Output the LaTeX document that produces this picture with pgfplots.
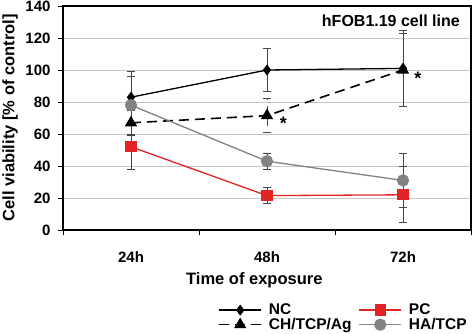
\documentclass[border=0pt]{standalone}
\usepackage{pgfplots}
\pgfplotsset{compat=1.18}
\usepackage{fontspec}
\setmainfont{Liberation Sans}
\definecolor{pcred}{RGB}{225,35,35}
\definecolor{hagray}{RGB}{128,130,133}
\definecolor{errgray}{RGB}{70,70,70}
\begin{document}
\begin{tikzpicture}
\begin{axis}[
  scale only axis,
  width=408pt, height=224pt,
  xmin=0.5, xmax=3.5, ymin=0, ymax=140,
  xtick={1,2,3}, xticklabels={24h,48h,72h},
  major x tick style={draw=none},
  minor xtick={0.5,1.5,2.5,3.5},
  minor tick length=5pt,
  minor x tick style={black, line width=0.8pt},
  ytick={0,20,...,140},
  ytick style={black, line width=0.8pt},
  tick align=outside,
  major tick length=5pt,
  xtick pos=bottom, ytick pos=left,
  ymajorgrids,
  grid style={draw=black!22, line width=0.8pt},
  axis line style={black, line width=1.2pt},
  tick label style={font=\fontsize{15}{17}\selectfont\bfseries},
  /pgf/number format/assume math mode=true,
  xticklabel style={yshift=-13.5pt},
  yticklabel style={xshift=-4pt},
  xlabel={Time of exposure},
  ylabel={Cell viability [\% of control]},
  label style={font=\fontsize{16.5}{18}\selectfont\bfseries},
  xlabel style={at={([yshift=-50pt]axis description cs:0.469,0)}, anchor=center},
  ylabel style={at={([xshift=-53pt]axis description cs:0,0.5)}, anchor=center},
  legend columns=2,
  legend style={at={(0.373,-0.316)}, anchor=north west, draw=none, fill=none,
    font=\fontsize{15.5}{17}\selectfont\bfseries, row sep=0pt,
    nodes={inner ysep=1pt},
    /tikz/every odd column/.append style={column sep=5pt},
    /tikz/every even column/.append style={column sep=5pt}},
  legend cell align=left,
  legend image code/.code={\draw[mark repeat=2,mark phase=2,#1] plot coordinates {(0pt,0pt) (21pt,0pt) (42pt,0pt)};},
  error bars/y dir=both, error bars/y explicit,
  error bars/error bar style={errgray, line width=0.8pt},
  error bars/error mark options={rotate=90, mark size=4pt, errgray, line width=0.8pt},
]
\coordinate (SW) at (rel axis cs:0,0);
\addplot[black, line width=1.3pt, mark=diamond*, mark size=4.5pt, mark options={solid, fill=black}]
  table[x=x, y=y, y error=e] {
x y e
1 83 16
2 100 13.5
3 101 23.5
};
\addlegendentry{NC}
\addplot[pcred, line width=1.3pt, mark=square*, mark size=5pt, mark options={solid, fill=pcred}]
  table[x=x, y=y, y error=e] {
x y e
1 52 14
2 21.5 5
3 22 17.5
};
\addlegendentry{PC}
\addplot[black, line width=1.6pt, dash pattern=on 10pt off 6pt, mark=triangle*, mark size=5.5pt, mark options={solid, fill=black}]
  table[x=x, y=y, y error=e] {
x y e
1 67 8
2 71.5 10.5
3 100 23
};
\addlegendentry{CH/TCP/Ag}
\addplot[hagray, line width=1.3pt, mark=*, mark size=5.5pt, mark options={solid, fill=hagray}]
  table[x=x, y=y, y error=e] {
x y e
1 78 18
2 43 5
3 31 17
};
\addlegendentry{HA/TCP}
\node[font=\fontsize{18}{18}\selectfont\bfseries] at (axis cs:2.12,66.5) {*};
\node[font=\fontsize{18}{18}\selectfont\bfseries] at (axis cs:3.11,95) {*};
\node[anchor=north east, inner sep=0pt, font=\fontsize{16}{18}\selectfont\bfseries] at (rel axis cs:0.973,0.962) {hFOB1.19 cell line};
\draw[black, line width=2.5pt] (rel axis cs:1,0) -- (rel axis cs:1,1);
\end{axis}
\pgfresetboundingbox
\path (SW) ++(-63pt,-104pt) rectangle ++(474pt,334pt);
\end{tikzpicture}
\end{document}
